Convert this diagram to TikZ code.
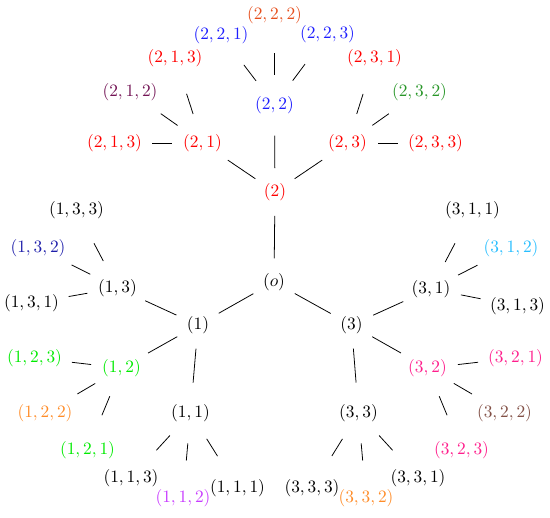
\documentclass[tikz,border=0pt]{standalone}
\usetikzlibrary{shapes.geometric}
\definecolor{corangered}{RGB}{230,80,30}
\definecolor{cmaroon}{RGB}{115,20,85}
\definecolor{cdgreen}{RGB}{40,150,40}
\definecolor{cdblue}{RGB}{30,30,170}
\definecolor{cviolet}{RGB}{200,60,255}
\definecolor{clblue}{RGB}{40,190,255}
\definecolor{cbrown}{RGB}{130,80,70}
\definecolor{corange}{RGB}{255,140,40}
\definecolor{cpink}{RGB}{255,30,140}
\definecolor{cgreen}{RGB}{0,235,0}
\definecolor{cblue}{RGB}{30,30,255}
\begin{document}
\begin{tikzpicture}[x=0.5764pt,y=-0.5764pt,
  tn/.style={circle,inner sep=4pt,outer sep=0pt},
  ed/.style={line width=0.45pt}]
\useasboundingbox (0,0) rectangle (550,517);
% root and level 1
\node[tn] (o) at (274,282) {$(o)$};
\node[tn,red] (n2) at (275,192) {$(2)$};
\node[tn] (n1) at (198,325) {$(1)$};
\node[tn] (n3) at (351.5,325) {$(3)$};
% level 2
\node[tn,red] (n21) at (202.5,143) {$(2,1)$};
\node[tn,cblue] (n22) at (274.5,105) {$(2,2)$};
\node[tn,red] (n23) at (347.5,143) {$(2,3)$};
\node[tn] (n13) at (117.5,288) {$(1,3)$};
\node[tn,cgreen] (n12) at (121.5,368) {$(1,2)$};
\node[tn] (n11) at (190.5,413) {$(1,1)$};
\node[tn] (n31) at (431,289) {$(3,1)$};
\node[tn,cpink] (n32) at (427.5,368) {$(3,2)$};
\node[tn] (n33) at (358.5,413) {$(3,3)$};
% level 3
\node[tn,red] (n211) at (114.5,143) {$(2,1,3)$};
\node[tn,cmaroon] (n212) at (130,92) {$(2,1,2)$};
\node[tn,red] (n213) at (175,58) {$(2,1,3)$};
\node[tn,cblue] (n221) at (221,35) {$(2,2,1)$};
\node[tn,corangered] (n222) at (274.5,15) {$(2,2,2)$};
\node[tn,cblue] (n223) at (327.5,34) {$(2,2,3)$};
\node[tn,red] (n231) at (374.5,58) {$(2,3,1)$};
\node[tn,cdgreen] (n232) at (419.5,92) {$(2,3,2)$};
\node[tn,red] (n233) at (435.5,143) {$(2,3,3)$};
\node[tn] (n133) at (76.5,210) {$(1,3,3)$};
\node[tn,cdblue] (n132) at (38,248) {$(1,3,2)$};
\node[tn] (n131) at (31.5,303) {$(1,3,1)$};
\node[tn,cgreen] (n123) at (34.5,358) {$(1,2,3)$};
\node[tn,corange] (n122) at (45,413) {$(1,2,2)$};
\node[tn,cgreen] (n121) at (87.5,450) {$(1,2,1)$};
\node[tn] (n113) at (131,478) {$(1,1,3)$};
\node[tn,cviolet] (n112) at (183,498) {$(1,1,2)$};
\node[tn] (n111) at (237.5,488) {$(1,1,1)$};
\node[tn] (n311) at (472.5,210) {$(3,1,1)$};
\node[tn,clblue] (n312) at (511,248) {$(3,1,2)$};
\node[tn] (n313) at (517.5,306) {$(3,1,3)$};
\node[tn,cpink] (n321) at (515.5,358) {$(3,2,1)$};
\node[tn,cbrown] (n322) at (504.5,413) {$(3,2,2)$};
\node[tn,cpink] (n323) at (461.5,450) {$(3,2,3)$};
\node[tn] (n331) at (418,478) {$(3,3,1)$};
\node[tn,corange] (n332) at (366,498) {$(3,3,2)$};
\node[tn] (n333) at (312,488) {$(3,3,3)$};
% edges
\foreach \a/\b in {o/n2,o/n1,o/n3,
  n2/n21,n2/n22,n2/n23,
  n1/n13,n1/n12,n1/n11,
  n3/n31,n3/n32,n3/n33,
  n21/n211,n21/n212,n21/n213,
  n22/n221,n22/n222,n22/n223,
  n23/n231,n23/n232,n23/n233,
  n13/n133,n13/n132,n13/n131,
  n12/n123,n12/n122,n12/n121,
  n11/n113,n11/n112,n11/n111,
  n31/n311,n31/n312,n31/n313,
  n32/n321,n32/n322,n32/n323,
  n33/n331,n33/n332,n33/n333}
  \draw[ed] (\a) -- (\b);
\end{tikzpicture}
\end{document}
